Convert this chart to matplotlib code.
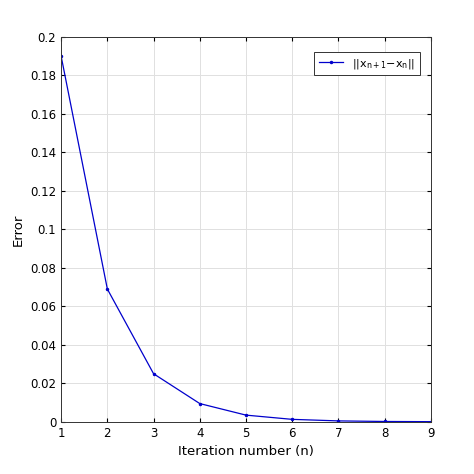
import matplotlib
matplotlib.use("Agg")
import matplotlib.pyplot as plt

iterations = [1, 2, 3, 4, 5, 6, 7, 8, 9]
errors = [0.19, 0.069, 0.025, 0.0095, 0.0035, 0.0013, 0.0005, 0.0002, 0.0001]

fig = plt.figure(figsize=(4.74, 4.74), dpi=100)
ax = fig.add_axes([0.129, 0.110, 0.780, 0.812])
ax.plot(iterations, errors, color="#0000cc", lw=0.9, marker=".", ms=3,
        label=r"$||\mathrm{x}_{\mathrm{n+1}}\mathrm{-x}_{\mathrm{n}}||$")
ax.set_xlim(1, 9)
ax.set_ylim(0, 0.2)
ax.set_xticks(iterations)
ax.set_yticks([0, 0.02, 0.04, 0.06, 0.08, 0.1, 0.12, 0.14, 0.16, 0.18, 0.2])
ax.set_yticklabels(["0", "0.02", "0.04", "0.06", "0.08", "0.1", "0.12", "0.14", "0.16", "0.18", "0.2"])
ax.grid(True, color="#e0e0e0", lw=0.7)
ax.tick_params(labelsize=8.5, direction="in", length=3, top=True, right=True)
for s in ax.spines.values():
    s.set_color("#333333")
    s.set_linewidth(0.7)
ax.set_xlabel("Iteration number (n)", fontsize=9.5)
ax.set_ylabel("Error", fontsize=9.5)
leg = ax.legend(loc="upper right", bbox_to_anchor=(0.985, 0.975), fontsize=8,
                fancybox=False, framealpha=1, edgecolor="#333333", handlelength=2.2)
leg.get_frame().set_linewidth(0.7)
fig.savefig("out.png", dpi=100)
